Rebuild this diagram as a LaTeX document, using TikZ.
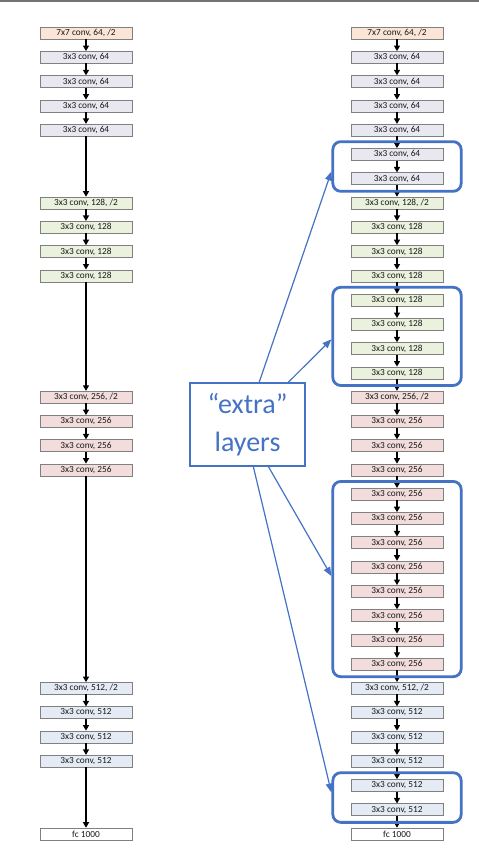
\documentclass[tikz,border=0pt]{standalone}
\usepackage{fontspec}
\setmainfont{Carlito}
\usetikzlibrary{arrows.meta, positioning, fit, calc}
\definecolor{convseven}{RGB}{251,229,214}
\definecolor{convsixtyfour}{RGB}{233,232,241}
\definecolor{convonetwoeight}{RGB}{234,241,221}
\definecolor{convtwofivesix}{RGB}{242,221,220}
\definecolor{convfiveonetwo}{RGB}{229,235,244}
\definecolor{extrablue}{RGB}{68,114,196}
\tikzset{
  layer/.style={draw=black!50, fill=white, minimum width=92pt, minimum height=12pt,
                inner sep=0pt, text=black!90, font=\fontsize{9.3}{10}\selectfont},
  cseven/.style={layer, fill=convseven},
  csixtyfour/.style={layer, fill=convsixtyfour},
  conetwoeight/.style={layer, fill=convonetwoeight},
  ctwofivesix/.style={layer, fill=convtwofivesix},
  cfiveonetwo/.style={layer, fill=convfiveonetwo},
  arrow/.style={-{Triangle[width=6pt,length=5.5pt]}, line width=1.2pt, black},
  group/.style={draw=extrablue, line width=2.8pt, rounded corners=8pt,
                inner xsep=18pt, inner ysep=6.5pt},
  note/.style={draw=extrablue, line width=1.2pt, text=extrablue, fill=white,
               minimum width=115pt, minimum height=83pt, align=center,
               font=\fontsize{28}{38}\selectfont},
  pointer/.style={-{Triangle[width=7pt,length=9pt]}, line width=1.2pt, extrablue},
}
\begin{document}
\begin{tikzpicture}[x=1pt, y=-1pt, node distance=11.87pt]
  \path[use as bounding box] (0,0) rectangle (479,852);
  \draw[black!55, line width=1.5pt] (0,0.75) -- (479,0.75);

  % deeper network (right)
  \node[cseven] (r0) at (397,33) {7x7 conv, 64, /2};
  \node[csixtyfour, below=of r0] (r1) {3x3 conv, 64};
  \node[csixtyfour, below=of r1] (r2) {3x3 conv, 64};
  \node[csixtyfour, below=of r2] (r3) {3x3 conv, 64};
  \node[csixtyfour, below=of r3] (r4) {3x3 conv, 64};
  \node[csixtyfour, below=of r4] (r5) {3x3 conv, 64};
  \node[csixtyfour, below=of r5] (r6) {3x3 conv, 64};
  \node[conetwoeight, below=of r6] (r7) {3x3 conv, 128, /2};
  \node[conetwoeight, below=of r7] (r8) {3x3 conv, 128};
  \node[conetwoeight, below=of r8] (r9) {3x3 conv, 128};
  \node[conetwoeight, below=of r9] (r10) {3x3 conv, 128};
  \node[conetwoeight, below=of r10] (r11) {3x3 conv, 128};
  \node[conetwoeight, below=of r11] (r12) {3x3 conv, 128};
  \node[conetwoeight, below=of r12] (r13) {3x3 conv, 128};
  \node[conetwoeight, below=of r13] (r14) {3x3 conv, 128};
  \node[ctwofivesix, below=of r14] (r15) {3x3 conv, 256, /2};
  \node[ctwofivesix, below=of r15] (r16) {3x3 conv, 256};
  \node[ctwofivesix, below=of r16] (r17) {3x3 conv, 256};
  \node[ctwofivesix, below=of r17] (r18) {3x3 conv, 256};
  \node[ctwofivesix, below=of r18] (r19) {3x3 conv, 256};
  \node[ctwofivesix, below=of r19] (r20) {3x3 conv, 256};
  \node[ctwofivesix, below=of r20] (r21) {3x3 conv, 256};
  \node[ctwofivesix, below=of r21] (r22) {3x3 conv, 256};
  \node[ctwofivesix, below=of r22] (r23) {3x3 conv, 256};
  \node[ctwofivesix, below=of r23] (r24) {3x3 conv, 256};
  \node[ctwofivesix, below=of r24] (r25) {3x3 conv, 256};
  \node[ctwofivesix, below=of r25] (r26) {3x3 conv, 256};
  \node[cfiveonetwo, below=of r26] (r27) {3x3 conv, 512, /2};
  \node[cfiveonetwo, below=of r27] (r28) {3x3 conv, 512};
  \node[cfiveonetwo, below=of r28] (r29) {3x3 conv, 512};
  \node[cfiveonetwo, below=of r29] (r30) {3x3 conv, 512};
  \node[cfiveonetwo, below=of r30] (r31) {3x3 conv, 512};
  \node[cfiveonetwo, below=of r31] (r32) {3x3 conv, 512};
  \node[layer, below=of r32] (r33) {fc 1000};

  \foreach \i [evaluate=\i as \j using int(\i+1)] in {0,...,32}
    \draw[arrow] (r\i) -- (r\j);

  % plain network (left)
  \node[cseven] (l0) at (86,33) {7x7 conv, 64, /2};
  \node[csixtyfour, below=of l0] (l1) {3x3 conv, 64};
  \node[csixtyfour, below=of l1] (l2) {3x3 conv, 64};
  \node[csixtyfour, below=of l2] (l3) {3x3 conv, 64};
  \node[csixtyfour, below=of l3] (l4) {3x3 conv, 64};
  \node[conetwoeight] (l7) at (l0 |- r7) {3x3 conv, 128, /2};
  \node[conetwoeight, below=of l7] (l8) {3x3 conv, 128};
  \node[conetwoeight, below=of l8] (l9) {3x3 conv, 128};
  \node[conetwoeight, below=of l9] (l10) {3x3 conv, 128};
  \node[ctwofivesix] (l15) at (l0 |- r15) {3x3 conv, 256, /2};
  \node[ctwofivesix, below=of l15] (l16) {3x3 conv, 256};
  \node[ctwofivesix, below=of l16] (l17) {3x3 conv, 256};
  \node[ctwofivesix, below=of l17] (l18) {3x3 conv, 256};
  \node[cfiveonetwo] (l27) at (l0 |- r27) {3x3 conv, 512, /2};
  \node[cfiveonetwo, below=of l27] (l28) {3x3 conv, 512};
  \node[cfiveonetwo, below=of l28] (l29) {3x3 conv, 512};
  \node[cfiveonetwo, below=of l29] (l30) {3x3 conv, 512};
  \node[layer] (l33) at (l0 |- r33) {fc 1000};

  \foreach \a/\b in {l0/l1, l1/l2, l2/l3, l3/l4, l4/l7, l7/l8, l8/l9, l9/l10,
                     l10/l15, l15/l16, l16/l17, l17/l18, l18/l27, l27/l28,
                     l28/l29, l29/l30, l30/l33}
    \draw[arrow] (\a) -- (\b);

  % extra layers
  \node[group, fit=(r5)(r6)] (g1) {};
  \node[group, fit=(r11)(r14)] (g2) {};
  \node[group, fit=(r19)(r26)] (g3) {};
  \node[group, fit=(r31)(r32)] (g4) {};

  \node[note] (extra) at (247.5,424.5) {“extra”\\layers};

  \draw[pointer] ($(extra.north west)!0.6!(extra.north east)$) -- ($(g1.west)+(0,5)$);
  \draw[pointer] ($(extra.north west)!0.85!(extra.north east)$) -- ($(g2.west)+(0,3)$);
  \draw[pointer] ($(extra.south west)!0.68!(extra.south east)$) -- ($(g3.west)+(0,-3)$);
  \draw[pointer] ($(extra.south west)!0.55!(extra.south east)$) -- ($(g4.west)+(0,-5)$);
\end{tikzpicture}
\end{document}
